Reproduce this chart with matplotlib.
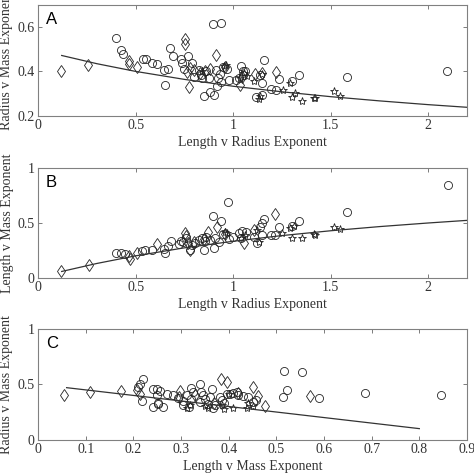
import matplotlib
matplotlib.use("Agg")
import matplotlib.pyplot as plt

# ---------------- Panel A: Length v Radius exponent (x) vs Radius v Mass exponent (y)
A_circ_x = [0.399, 0.425, 0.437, 0.537, 0.554, 0.583, 0.609, 0.646, 0.648, 0.665, 0.674, 0.689,
            0.734, 0.737, 0.766, 0.789, 0.797, 0.823, 0.837, 0.842, 0.848, 0.874, 0.883, 0.895,
            0.900, 0.917, 0.922, 0.931, 0.938, 0.914, 0.977, 0.950, 0.970, 1.042, 1.017, 1.049,
            1.063, 1.117, 1.140, 1.150, 1.157, 1.147, 1.195, 1.218, 1.234, 1.304, 1.338, 1.586,
            2.096, 0.940, 0.860, 1.030, 1.050, 0.750]
A_circ_y = [0.550, 0.496, 0.477, 0.454, 0.456, 0.436, 0.432, 0.405, 0.338, 0.411, 0.504, 0.469,
            0.454, 0.436, 0.469, 0.439, 0.373, 0.406, 0.384, 0.371, 0.289, 0.371, 0.308, 0.614,
            0.293, 0.335, 0.369, 0.387, 0.620, 0.406, 0.361, 0.420, 0.412, 0.426, 0.361, 0.385,
            0.402, 0.283, 0.383, 0.346, 0.451, 0.292, 0.322, 0.316, 0.368, 0.356, 0.385, 0.373,
            0.404, 0.350, 0.400, 0.370, 0.400, 0.410]
A_diam_x = [0.117, 0.255, 0.464, 0.468, 0.506, 0.751, 0.754, 0.763, 0.775, 0.780, 0.800, 0.914,
            0.879, 0.855, 1.037, 1.111, 1.218, 0.960, 1.150, 0.830, 1.045]
A_diam_y = [0.403, 0.430, 0.447, 0.435, 0.421, 0.546, 0.522, 0.398, 0.331, 0.414, 0.405, 0.474,
            0.411, 0.400, 0.338, 0.387, 0.397, 0.420, 0.395, 0.395, 0.375]
A_star_x = [0.955, 0.965, 1.034, 1.054, 1.105, 1.131, 1.140, 1.256, 1.291, 1.304, 1.318, 1.354,
            1.416, 1.420, 1.515, 1.546, 0.840, 1.070, 1.150]
A_star_y = [0.424, 0.428, 0.369, 0.391, 0.355, 0.277, 0.290, 0.316, 0.346, 0.283, 0.301, 0.266,
            0.278, 0.282, 0.313, 0.287, 0.400, 0.380, 0.390]
A_curve_x = [0.12, 0.30, 0.50, 0.75, 1.00, 1.25, 1.50, 1.75, 2.00, 2.20]
A_curve_y = [0.472, 0.435, 0.400, 0.364, 0.333, 0.308, 0.286, 0.267, 0.250, 0.238]

# ---------------- Panel B: Length v Radius exponent (x) vs Length v Mass exponent (y)
B_circ_x = [0.400, 0.424, 0.446, 0.532, 0.549, 0.583, 0.643, 0.651, 0.668, 0.681, 0.734, 0.742,
            0.776, 0.806, 0.823, 0.840, 0.857, 0.848, 0.895, 0.938, 0.974, 0.900, 0.883, 0.909,
            0.927, 0.977, 1.028, 1.046, 1.068, 1.123, 1.105, 1.157, 1.337, 1.582, 2.100, 1.234,
            1.195, 1.217, 1.140, 1.149, 1.149, 1.300, 0.760, 0.790, 0.860, 0.950, 1.000, 1.040,
            0.720]
B_circ_y = [0.229, 0.223, 0.214, 0.244, 0.253, 0.253, 0.260, 0.223, 0.290, 0.338, 0.338, 0.329,
            0.253, 0.320, 0.345, 0.360, 0.338, 0.253, 0.564, 0.521, 0.695, 0.269, 0.345, 0.360,
            0.329, 0.351, 0.406, 0.427, 0.420, 0.320, 0.375, 0.534, 0.521, 0.598, 0.845, 0.461,
            0.390, 0.390, 0.466, 0.497, 0.390, 0.470, 0.360, 0.300, 0.370, 0.400, 0.370, 0.360,
            0.310]
B_diam_x = [0.117, 0.259, 0.468, 0.471, 0.506, 0.609, 0.754, 0.759, 0.766, 0.777, 0.800, 0.869,
            0.917, 1.054, 1.105, 1.217, 0.960, 0.850]
B_diam_y = [0.063, 0.114, 0.198, 0.171, 0.223, 0.308, 0.411, 0.381, 0.314, 0.249, 0.330, 0.415,
            0.461, 0.320, 0.436, 0.580, 0.400, 0.350]
B_star_x = [0.960, 0.970, 1.131, 1.251, 1.294, 1.311, 1.303, 1.351, 1.417, 1.420, 1.517, 1.546,
            1.060, 1.040, 1.120]
B_star_y = [0.415, 0.410, 0.329, 0.406, 0.452, 0.473, 0.366, 0.366, 0.400, 0.390, 0.461, 0.445,
            0.390, 0.360, 0.440]
B_curve_x = [0.12, 0.30, 0.50, 0.75, 1.00, 1.25, 1.50, 1.75, 2.00, 2.20]
B_curve_y = [0.057, 0.130, 0.200, 0.273, 0.333, 0.385, 0.429, 0.467, 0.500, 0.524]

# ---------------- Panel C: Length v Mass exponent (x) vs Radius v Mass exponent (y)
C_circ_x = [0.221, 0.213, 0.209, 0.219, 0.242, 0.249, 0.256, 0.270, 0.249, 0.251, 0.242, 0.263,
            0.284, 0.305, 0.312, 0.322, 0.326, 0.317, 0.305, 0.322, 0.340, 0.343, 0.350, 0.340,
            0.364, 0.361, 0.357, 0.347, 0.382, 0.385, 0.371, 0.368, 0.396, 0.403, 0.410, 0.417,
            0.431, 0.441, 0.457, 0.513, 0.516, 0.523, 0.553, 0.590, 0.686, 0.845, 0.294, 0.252,
            0.390, 0.420, 0.450]
C_circ_y = [0.552, 0.507, 0.476, 0.348, 0.455, 0.462, 0.437, 0.417, 0.402, 0.336, 0.291, 0.297,
            0.408, 0.348, 0.402, 0.467, 0.431, 0.297, 0.312, 0.372, 0.507, 0.431, 0.372, 0.341,
            0.462, 0.386, 0.327, 0.402, 0.386, 0.357, 0.312, 0.290, 0.416, 0.410, 0.425, 0.434,
            0.395, 0.386, 0.356, 0.386, 0.620, 0.452, 0.611, 0.374, 0.425, 0.407, 0.380, 0.326,
            0.330, 0.400, 0.340]
C_diam_x = [0.055, 0.110, 0.174, 0.207, 0.213, 0.298, 0.296, 0.384, 0.396, 0.450, 0.462, 0.477,
            0.571, 0.330, 0.370, 0.420]
C_diam_y = [0.407, 0.431, 0.440, 0.447, 0.417, 0.437, 0.386, 0.552, 0.521, 0.476, 0.398, 0.305,
            0.398, 0.400, 0.330, 0.420]
C_star_x = [0.312, 0.319, 0.357, 0.390, 0.387, 0.438, 0.452, 0.410, 0.400, 0.440, 0.350]
C_star_y = [0.282, 0.312, 0.288, 0.275, 0.314, 0.290, 0.305, 0.290, 0.410, 0.330, 0.300]
C_line_x = [0.06, 0.80]
C_line_y = [0.47, 0.10]

# ---------------- labels / ticks
x_label_LR = "Length v Radius Exponent"
x_label_LM = "Length v Mass Exponent"
y_label_RM = "Radius v Mass Exponent"
y_label_LM = "Length v Mass Exponent"
A_yticks = [0.2, 0.4, 0.6]
A_yticklabels = ["0.2", "0.4", "0.6"]
AB_xticks = [0, 0.5, 1, 1.5, 2]
AB_xticklabels = ["0", "0.5", "1", "1.5", "2"]
BC_yticks = [0, 0.5, 1]
BC_yticklabels = ["0", "0.5", "1"]
C_xticks = [0, 0.1, 0.2, 0.3, 0.4, 0.5, 0.6, 0.7, 0.8, 0.9]
C_xticklabels = ["0", "0.1", "0.2", "0.3", "0.4", "0.5", "0.6", "0.7", "0.8", "0.9"]

SERIF = ["Liberation Serif", "DejaVu Serif"]
SANS = ["Liberation Sans", "DejaVu Sans"]

fig = plt.figure(figsize=(4.74, 4.74), dpi=100)
W = 474.0
def rect(l, r, t, b):
    return [l / W, 1 - b / W, (r - l) / W, (b - t) / W]

axA = fig.add_axes(rect(38.3, 467, 5, 115.7))
axB = fig.add_axes(rect(38.3, 467, 168.3, 277.7))
axC = fig.add_axes(rect(38.0, 467, 329, 439.7))

mk = dict(linestyle="none", markerfacecolor="none", markeredgecolor="#222222", markeredgewidth=0.6)

def scatter(ax, cx, cy, dx, dy, sx, sy):
    ax.plot(cx, cy, marker="o", markersize=5.8, **mk)
    ax.plot(dx, dy, marker="d", markersize=6.0, **mk)
    ax.plot(sx, sy, marker="*", markersize=6.0, **mk)

def style(ax, letter, xlim, ylim, xt, xtl, yt, ytl, xlabel, ylabel):
    ax.set_xlim(*xlim)
    ax.set_ylim(*ylim)
    ax.set_xticks(xt)
    ax.set_xticklabels(xtl, family=SERIF, fontsize=10, color="#333333")
    ax.set_yticks(yt)
    ax.set_yticklabels(ytl, family=SERIF, fontsize=10, color="#333333")
    ax.tick_params(direction="in", top=True, right=True, length=3, width=0.6, color="#666666", pad=2.5)
    for s in ax.spines.values():
        s.set_color("#808080")
        s.set_linewidth(0.8)
    ax.set_xlabel(xlabel, family=SERIF, fontsize=10, color="#333333", labelpad=2.5)
    ax.set_ylabel(ylabel, family=SERIF, fontsize=10, color="#333333", labelpad=3)
    ax.text(0.018, 0.94, letter, transform=ax.transAxes, family=SANS, fontsize=12,
            ha="left", va="top", color="black")

scatter(axA, A_circ_x, A_circ_y, A_diam_x, A_diam_y, A_star_x, A_star_y)
axA.plot(A_curve_x, A_curve_y, color="#333333", linewidth=0.9)
style(axA, "A", (0, 2.2), (0.2, 0.7), AB_xticks, AB_xticklabels, A_yticks, A_yticklabels,
      x_label_LR, y_label_RM)

scatter(axB, B_circ_x, B_circ_y, B_diam_x, B_diam_y, B_star_x, B_star_y)
axB.plot(B_curve_x, B_curve_y, color="#333333", linewidth=0.9)
style(axB, "B", (0, 2.2), (0, 1), AB_xticks, AB_xticklabels, BC_yticks, BC_yticklabels,
      x_label_LR, y_label_LM)

scatter(axC, C_circ_x, C_circ_y, C_diam_x, C_diam_y, C_star_x, C_star_y)
axC.plot(C_line_x, C_line_y, color="#333333", linewidth=0.9)
style(axC, "C", (0, 0.9), (0, 1), C_xticks, C_xticklabels, BC_yticks, BC_yticklabels,
      x_label_LM, y_label_RM)

fig.savefig("out.png", dpi=100)
